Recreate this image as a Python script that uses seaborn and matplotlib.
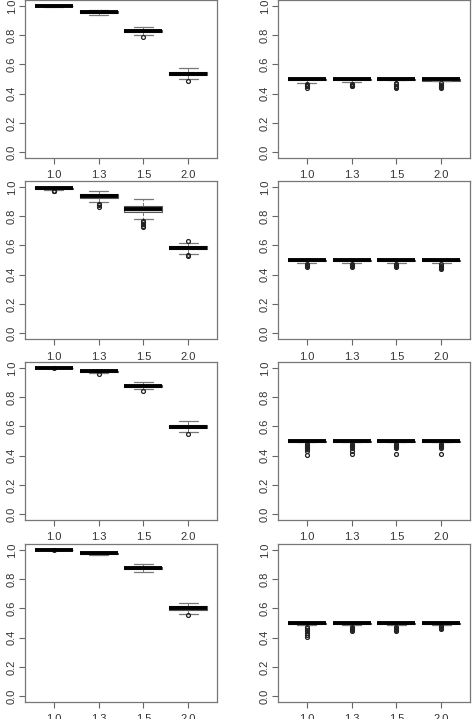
import matplotlib
matplotlib.use("Agg")
import matplotlib.pyplot as plt
import seaborn as sns
import pandas as pd

groups = ["1.0", "1.3", "1.5", "2.0"]

# box statistics, one row per panel
# (panel order: row 1 left, row 1 right, row 2 left, ...)
low = [
    [0.997, 0.945, 0.800, 0.500],
    [0.476, 0.480, 0.474, 0.471],
    [0.980, 0.894, 0.780, 0.540],
    [0.478, 0.480, 0.480, 0.478],
    [0.998, 0.967, 0.853, 0.560],
    [0.482, 0.482, 0.482, 0.482],
    [0.998, 0.969, 0.853, 0.560],
    [0.486, 0.486, 0.486, 0.486],
]
q1 = [
    [0.998, 0.952, 0.818, 0.527],
    [0.490, 0.491, 0.490, 0.489],
    [0.986, 0.924, 0.830, 0.572],
    [0.491, 0.491, 0.492, 0.491],
    [0.999, 0.973, 0.870, 0.588],
    [0.493, 0.493, 0.493, 0.493],
    [0.999, 0.972, 0.871, 0.592],
    [0.494, 0.494, 0.494, 0.494],
]
med = [
    [0.999, 0.957, 0.827, 0.536],
    [0.498, 0.498, 0.498, 0.498],
    [0.989, 0.936, 0.846, 0.584],
    [0.498, 0.498, 0.498, 0.498],
    [1.000, 0.977, 0.877, 0.598],
    [0.499, 0.499, 0.499, 0.499],
    [1.000, 0.976, 0.878, 0.604],
    [0.499, 0.499, 0.499, 0.499],
]
q3 = [
    [1.000, 0.963, 0.836, 0.547],
    [0.500, 0.500, 0.500, 0.500],
    [0.992, 0.949, 0.869, 0.595],
    [0.500, 0.500, 0.500, 0.500],
    [1.000, 0.981, 0.884, 0.608],
    [0.500, 0.500, 0.500, 0.500],
    [1.000, 0.979, 0.884, 0.615],
    [0.500, 0.500, 0.500, 0.500],
]
high = [
    [1.000, 0.970, 0.858, 0.575],
    [0.500, 0.500, 0.500, 0.500],
    [0.997, 0.972, 0.918, 0.615],
    [0.500, 0.500, 0.500, 0.500],
    [1.000, 0.986, 0.900, 0.636],
    [0.500, 0.500, 0.500, 0.500],
    [1.000, 0.982, 0.900, 0.640],
    [0.500, 0.500, 0.500, 0.500],
]
outliers = [
    [[0.995], [0.940], [0.789], [0.488]],
    [[0.465, 0.460, 0.455, 0.450, 0.440], [0.465, 0.460, 0.455, 0.450],
     [0.463, 0.455, 0.448, 0.440], [0.460, 0.452, 0.445, 0.440]],
    [[0.975, 0.972, 0.969], [0.885, 0.875, 0.865],
     [0.768, 0.757, 0.745, 0.735, 0.725], [0.632, 0.533, 0.528]],
    [[0.470, 0.465, 0.458, 0.452], [0.470, 0.465, 0.458, 0.452],
     [0.472, 0.466, 0.460, 0.455], [0.470, 0.462, 0.455, 0.445, 0.438]],
    [[0.996], [0.960], [0.845], [0.550]],
    [[0.475, 0.468, 0.460, 0.452, 0.445, 0.430, 0.405],
     [0.475, 0.468, 0.460, 0.452, 0.430, 0.410],
     [0.475, 0.468, 0.460, 0.452, 0.410],
     [0.475, 0.468, 0.460, 0.452, 0.413]],
    [[0.996], [0.964], [0.852], [0.552]],
    [[0.475, 0.465, 0.455, 0.445, 0.430, 0.418, 0.406],
     [0.476, 0.468, 0.460, 0.452, 0.445],
     [0.476, 0.468, 0.460, 0.452, 0.446],
     [0.480, 0.472, 0.465, 0.456]],
]

# long table for seaborn: each read statistic is repeated so that the
# computed quartiles and whiskers land on the read values
rows = []
for p in range(8):
    for g, name in enumerate(groups):
        vals = [low[p][g], high[p][g]] + outliers[p][g]
        vals += [q1[p][g]] * 20 + [med[p][g]] * 20 + [q3[p][g]] * 20
        rows += [(p, name, v) for v in vals]
df = pd.DataFrame(rows, columns=["panel", "group", "value"])

sns.set_style("white")
plt.rcParams["font.family"] = ["Liberation Sans", "DejaVu Sans"]

W, H = 474, 719
fig = plt.figure(figsize=(W / 100, H / 100), dpi=100)

col_left = [25, 278]
row_top = [0, 181, 362, 544]
ax_w, ax_h = 192, 158

for p in range(8):
    r, c = divmod(p, 2)
    ax = fig.add_axes([col_left[c] / W, 1 - (row_top[r] + ax_h) / H,
                       ax_w / W, ax_h / H])
    sns.boxplot(data=df[df["panel"] == p], x="group", y="value",
                order=groups, ax=ax, width=0.85, color="#d9d9d9",
                linecolor="#555555", linewidth=0.8, whis=1.5,
                medianprops={"color": "black", "linewidth": 2.8},
                whiskerprops={"color": "#777777", "linestyle": "--",
                              "linewidth": 0.7},
                capprops={"color": "#777777", "linewidth": 0.9},
                flierprops={"marker": "o", "markersize": 2.8,
                            "markerfacecolor": "none",
                            "markeredgecolor": "#222222",
                            "markeredgewidth": 0.9})
    ax.set_xlim(-0.64, 3.64)
    ax.set_ylim(-0.04, 1.04)
    ax.set_yticks([0.0, 0.2, 0.4, 0.6, 0.8, 1.0])
    ax.set_yticklabels(["0.0", "0.2", "0.4", "0.6", "0.8", "1.0"],
                       rotation=90, va="center")
    ax.set_xlabel("")
    ax.set_ylabel("")
    ax.tick_params(axis="both", length=4, width=0.8, color="#666666",
                   labelsize=8, labelcolor="#333333",
                   direction="out", left=True, bottom=True)
    ax.tick_params(axis="x", pad=5)
    ax.tick_params(axis="y", pad=2)
    for s in ax.spines.values():
        s.set_color("#777777")
        s.set_linewidth(0.9)

fig.savefig("out.png", dpi=100)
